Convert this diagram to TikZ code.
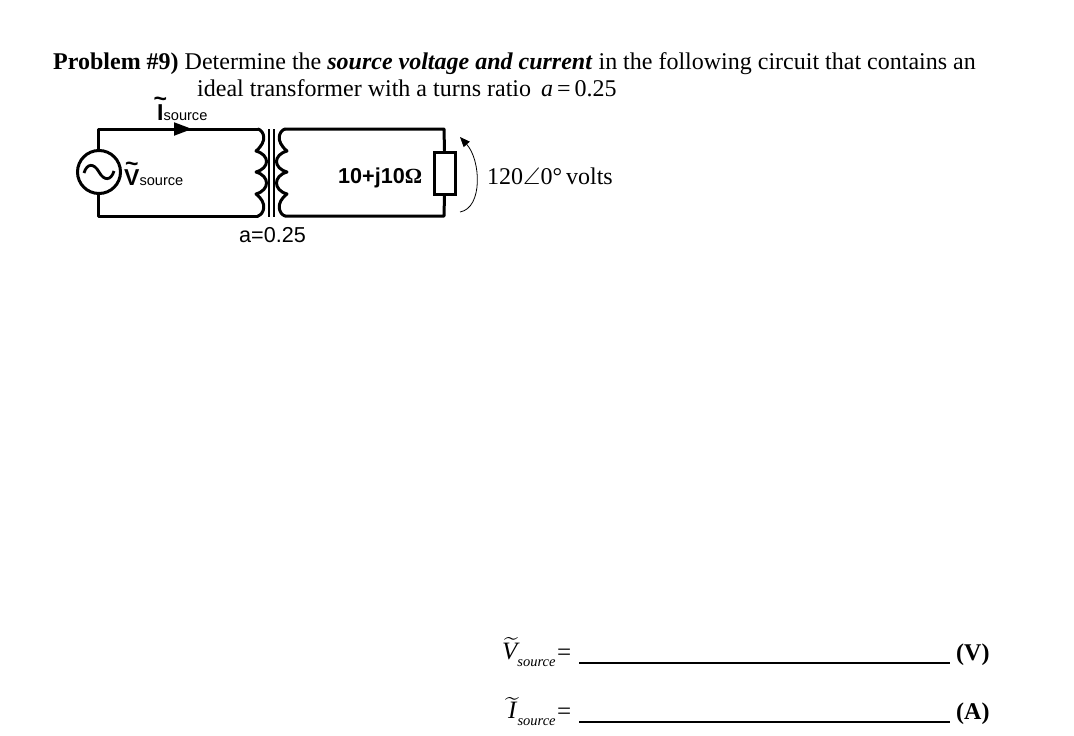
\documentclass[tikz,border=0pt]{standalone}
\usepackage{fontspec}
\usepackage{amssymb}
\setmainfont{Liberation Serif}
\setsansfont{Liberation Sans}
\usetikzlibrary{arrows.meta}
% tilde set over a letter, inside the same text, taking no width of its own
\newcommand{\tld}[2]{{\setbox0=\hbox{#2}\hbox to \wd0{\hss\raisebox{#1}{\textasciitilde}\hss}\kern-\wd0\box0}}
\newcommand{\wtld}[3]{{\setbox0=\hbox{#3}\hbox to \wd0{\hss\kern#2\raisebox{#1}{\ensuremath{\widetilde{\phantom{V}}}}\hss}\kern-\wd0\box0}}
\tikzset{
  x=1pt,y=-1pt,
  wire/.style={line width=3pt,line join=round,line cap=round},
  txt/.style={inner sep=0pt,anchor=base west,font=\fontsize{24}{26}\selectfont},
  lab/.style={inner sep=0pt,anchor=base west,font=\sffamily\fontsize{21.6}{24}\selectfont},
  blab/.style={inner sep=0pt,anchor=base west,font=\sffamily\bfseries\fontsize{23}{24}\selectfont},
  ans/.style={inner sep=0pt,anchor=base west,font=\bfseries\fontsize{24}{26}\selectfont},
  ital/.style={inner sep=0pt,anchor=base west,font=\itshape\fontsize{25}{26}\selectfont}
}
\newcommand{\srcsub}{\mdseries\fontsize{14.6}{16}\selectfont source}
\newcommand{\anssub}{\raisebox{-7pt}{\fontsize{14.5}{16}\selectfont source}}
\begin{document}
\begin{tikzpicture}
\useasboundingbox[fill=white] (0,0) rectangle (1074,736);
% text
\node[txt] (t1) at (53,69) {\textbf{Problem \#9)} Determine the \textbf{\textit{source voltage and current}} in the following circuit that contains an};
\node[txt] (t2) at (197,96) {ideal transformer with a turns ratio};
\node[txt] (t3) at (541,96) {\textit{a}\,=\,0.25};
% corners
\coordinate (tl) at (98,129);
\coordinate (bl) at (98,216);
\coordinate (pt) at (258,129);
\coordinate (pb) at (258,216);
\coordinate (st) at (285,129);
\coordinate (sb) at (285,216);
\coordinate (tr) at (444,129);
\coordinate (br) at (444,216);
% source
\node[circle,draw,line width=3pt,minimum size=43pt,inner sep=0pt] (src) at (99,172) {};
\draw[wire] (tl |- src.north) -- (tl) -- (pt);
\draw[wire] (bl |- src.south) -- (bl) -- (pb);
\draw[line width=2.8pt] (84,173) .. controls (87,163) and (94,163) .. (99,172) .. controls (104,181) and (111,181) .. (114,171);
\coordinate (am) at (174,129);
\coordinate (an) at (192,129);
\draw[-{Triangle[length=18pt,width=13pt]},line width=2pt] (am) -- (an);
% transformer
\draw[wire] (pt) .. controls (264,131) and (268,141) .. (256,151)
  .. controls (270,155) and (270,168) .. (256,172)
  .. controls (270,176) and (270,190) .. (256,194)
  .. controls (268,203) and (264,214) .. (pb);
\draw[wire] (st) .. controls (279,131) and (275,141) .. (287,151)
  .. controls (273,155) and (273,168) .. (287,172)
  .. controls (273,176) and (273,190) .. (287,194)
  .. controls (275,203) and (279,214) .. (sb);
\draw[line width=2.5pt] (269,129) -- (269,217);
\draw[line width=2.5pt] (274,129) -- (274,217);
% load
\node[draw,line width=3pt,minimum width=21pt,minimum height=42pt,inner sep=0pt] (res) at (444.5,173) {};
\draw[wire] (st) -- (tr) -- (res.north);
\draw[wire] (sb) -- (br) -- (res.south);
% voltage arrow
\coordinate (va) at (460,212);
\coordinate (vb) at (460,137);
\draw[line width=.8pt,-{Triangle[length=10pt,width=8pt]}] (va) .. controls (483,208) and (481,160) .. (vb);
% labels
\node[blab] (il) at (157,120) {\tld{14pt}{I}\srcsub};
\node[blab] (vl) at (124,185) {\tld{14pt}{V}\srcsub};
\node[blab,font=\sffamily\bfseries\fontsize{21.6}{24}\selectfont] (z) at (338,183) {10+j10{\rmfamily Ω}};
\node[lab] (ratio) at (239,242) {a=0.25};
\node[txt] (volts) at (487,184) {120$\angle$0°\,volts};
% answers
\node[ital] (v) at (502,659) {\wtld{-3pt}{4pt}{V}\anssub};
\node[txt,font=\fontsize{25}{26}\selectfont] (ve) at (557,660) {=};
\coordinate (vl1) at (579,663);
\coordinate (vl2) at (950,663);
\draw[line width=2pt] (vl1) -- (vl2);
\node[ans] (vu) at (956,660) {(V)};
\node[ital] (i) at (508,718) {\wtld{-4pt}{1pt}{I}\kern1pt\anssub};
\node[txt,font=\fontsize{25}{26}\selectfont] (ie) at (557,719) {=};
\coordinate (il1) at (579,722);
\coordinate (il2) at (950,722);
\draw[line width=2pt] (il1) -- (il2);
\node[ans] (iu) at (956,719) {(A)};
\end{tikzpicture}
\end{document}
